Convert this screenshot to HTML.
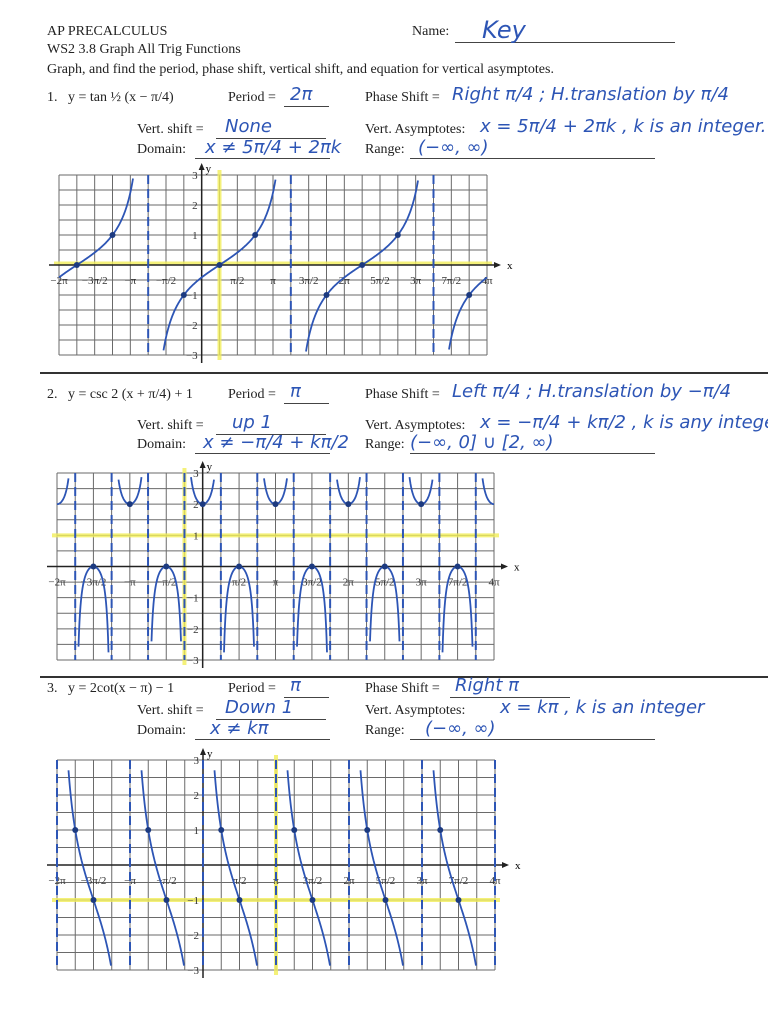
<!DOCTYPE html>
<html><head><meta charset="utf-8">
<style>
body{margin:0;background:#fff;width:768px;height:1024px;overflow:hidden;position:relative;font-family:"Liberation Serif",serif;color:#222}
.t{position:absolute;font-size:14px;white-space:nowrap}
.h{position:absolute;font-family:"DejaVu Sans",sans-serif;color:#2d55b5;font-size:18px;white-space:nowrap;font-style:italic}
.u{position:absolute;border-bottom:1px solid #444;height:0}
.sep{position:absolute;left:40px;width:728px;height:2px;background:#333}
svg{position:absolute;left:0;top:0}
</style></head><body>
<div class="t" style="left:47px;top:24px">AP PRECALCULUS</div>
<div class="t" style="left:47px;top:42px">WS2 3.8 Graph All Trig Functions</div>
<div class="t" style="left:47px;top:62px">Graph, and find the period, phase shift, vertical shift, and equation for vertical asymptotes.</div>
<div class="t" style="left:412px;top:24px">Name:</div>
<div class="u" style="left:455px;top:42px;width:220px"></div>
<div class="h" style="left:482px;top:16px;font-size:24px">Key</div>

<div class="t" style="left:47px;top:90px">1.&nbsp;&nbsp; y = tan ½ (x − π/4)</div>
<div class="t" style="left:228px;top:90px">Period = </div><div class="u" style="left:284px;top:106px;width:45px"></div>
<div class="h" style="left:290px;top:84px">2π</div>
<div class="t" style="left:365px;top:90px">Phase Shift =</div>
<div class="h" style="left:452px;top:84px">Right π/4 ; H.translation by π/4</div>
<div class="t" style="left:137px;top:122px">Vert. shift =</div><div class="u" style="left:216px;top:138px;width:110px"></div>
<div class="h" style="left:225px;top:116px">None</div>
<div class="t" style="left:365px;top:122px">Vert. Asymptotes:</div>
<div class="h" style="left:480px;top:116px">x = 5π/4 + 2πk , k is an integer.</div>
<div class="t" style="left:137px;top:142px">Domain:</div><div class="u" style="left:195px;top:158px;width:135px"></div>
<div class="h" style="left:205px;top:137px">x ≠ 5π/4 + 2πk</div>
<div class="t" style="left:365px;top:142px">Range:</div><div class="u" style="left:410px;top:158px;width:245px"></div>
<div class="h" style="left:418px;top:137px">(−∞, ∞)</div>
<div class="sep" style="top:372px"></div>

<div class="t" style="left:47px;top:387px">2.&nbsp;&nbsp; y = csc 2 (x + π/4) + 1</div>
<div class="t" style="left:228px;top:387px">Period = </div><div class="u" style="left:284px;top:403px;width:45px"></div>
<div class="h" style="left:290px;top:381px">π</div>
<div class="t" style="left:365px;top:387px">Phase Shift =</div>
<div class="h" style="left:452px;top:381px">Left π/4 ; H.translation by −π/4</div>
<div class="t" style="left:137px;top:418px">Vert. shift =</div><div class="u" style="left:216px;top:434px;width:110px"></div>
<div class="h" style="left:232px;top:412px">up 1</div>
<div class="t" style="left:365px;top:418px">Vert. Asymptotes:</div>
<div class="h" style="left:480px;top:412px">x = −π/4 + kπ/2 , k is any integer.</div>
<div class="t" style="left:137px;top:437px">Domain:</div><div class="u" style="left:195px;top:453px;width:135px"></div>
<div class="h" style="left:203px;top:432px">x ≠ −π/4 + kπ/2</div>
<div class="t" style="left:365px;top:437px">Range:</div><div class="u" style="left:410px;top:453px;width:245px"></div>
<div class="h" style="left:410px;top:432px">(−∞, 0] ∪ [2, ∞)</div>
<div class="sep" style="top:676px"></div>

<div class="t" style="left:47px;top:681px">3.&nbsp;&nbsp; y = 2cot(x − π) − 1</div>
<div class="t" style="left:228px;top:681px">Period = </div><div class="u" style="left:284px;top:697px;width:45px"></div>
<div class="h" style="left:290px;top:675px">π</div>
<div class="t" style="left:365px;top:681px">Phase Shift =</div><div class="u" style="left:450px;top:697px;width:120px"></div>
<div class="h" style="left:455px;top:675px">Right π</div>
<div class="t" style="left:137px;top:703px">Vert. shift =</div><div class="u" style="left:216px;top:719px;width:110px"></div>
<div class="h" style="left:225px;top:697px">Down 1</div>
<div class="t" style="left:365px;top:703px">Vert. Asymptotes:</div>
<div class="h" style="left:500px;top:697px">x = kπ , k is an integer</div>
<div class="t" style="left:137px;top:723px">Domain:</div><div class="u" style="left:195px;top:739px;width:135px"></div>
<div class="h" style="left:210px;top:718px">x ≠ kπ</div>
<div class="t" style="left:365px;top:723px">Range:</div><div class="u" style="left:410px;top:739px;width:245px"></div>
<div class="h" style="left:425px;top:718px">(−∞, ∞)</div>

<svg id="s" width="768" height="1024"></svg>
<script>
const xTickLabels=["−2π","−3π/2","−π","−π/2","","π/2","π","3π/2","2π","5π/2","3π","7π/2","4π"];
const yTickLabels=["−3","−2","−1","","1","2","3"];
// graph 1: y = A*tan(B(x - C)) + D
const g1Params=[1,0.5,Math.PI/4,0];
const g1Asym=[-0.75,1.25,3.25]; // in units of π
const g1Dots=[[-1.75,0],[-1.25,1],[-0.25,-1],[0.25,0],[0.75,1],[1.75,-1],[2.25,0],[2.75,1],[3.75,-1]];
// graph 2: y = A*csc(B(x + C)) + D
const g2Params=[1,2,Math.PI/4,1];
const g2Asym=[-1.75,-1.25,-0.75,-0.25,0.25,0.75,1.25,1.75,2.25,2.75,3.25,3.75];
const g2Dots=[[-1,2],[0,2],[1,2],[2,2],[3,2],[-1.5,0],[-0.5,0],[0.5,0],[1.5,0],[2.5,0],[3.5,0]];
// graph 3: y = A*cot(x - C) + D
const g3Params=[2,1,Math.PI,-1];
const g3Asym=[-2,-1,0,1,2,3,4];
const g3Dots=[[-1.75,1],[-1.5,-1],[-0.75,1],[-0.5,-1],[0.25,1],[0.5,-1],[1.25,1],[1.5,-1],[2.25,1],[2.5,-1],[3.25,1],[3.5,-1]];

const NS="http://www.w3.org/2000/svg",S=document.getElementById('s');
function el(t,a,p){const e=document.createElementNS(NS,t);for(const k in a)e.setAttribute(k,a[k]);(p||S).appendChild(e);return e;}
function graph(name,L,R,T,B,fn,asym,dots,hl){
 const g=el('g',{});
 
 
 const xs=v=>L+(v+2)/6*(R-L), ys=v=>T+(3-v)/6*(B-T);
 const x0=xs(0),y0=ys(0);
 for(let i=0;i<=24;i++){const x=L+i*(R-L)/24;el('line',{x1:x,y1:T,x2:x,y2:B,stroke:'#6a6a6a','stroke-width':1},g);}
 for(let j=0;j<=12;j++){const y=T+j*(B-T)/12;el('line',{x1:L,y1:y,x2:R,y2:y,stroke:'#6a6a6a','stroke-width':1},g);}
 hl.forEach(h=>{if(h[0]=='y')el('line',{x1:L-5,y1:ys(h[1]),x2:R+5,y2:ys(h[1]),stroke:'#f2ee5a','stroke-width':4,opacity:.8},g);else el('line',{x1:xs(h[1]),y1:T-5,x2:xs(h[1]),y2:B+5,stroke:'#f2ee5a','stroke-width':4,opacity:.8},g);});
 el('line',{x1:L-10,y1:y0,x2:R+12,y2:y0,stroke:'#222','stroke-width':1.5},g);
 el('line',{x1:x0,y1:T-10,x2:x0,y2:B+8,stroke:'#222','stroke-width':1.5},g);
 el('path',{d:`M${R+14},${y0}l-7,-3v6z`,fill:'#222'},g);
 el('path',{d:`M${x0},${T-12}l-3,7h6z`,fill:'#222'},g);
 const xl=el('text',{x:R+20,y:y0+4,'font-size':11},g);xl.textContent='x';
 const yl=el('text',{x:x0+4,y:T-3,'font-size':11},g);yl.textContent='y';
 xTickLabels.forEach((s,i)=>{if(!s)return;const t=el('text',{x:xs(-2+i*0.5),y:y0+19,'font-size':11,'text-anchor':'middle',fill:'#333'},g);t.textContent=s;});
 yTickLabels.forEach((s,i)=>{if(!s)return;const t=el('text',{x:x0-4,y:ys(-3+i)+4,'font-size':11,'text-anchor':'end',fill:'#333'},g);t.textContent=s;});
 asym.forEach(a=>el('line',{x1:xs(a),y1:T,x2:xs(a),y2:B,stroke:'#2d55b5','stroke-width':2,'stroke-dasharray':'9,5'},g));
 let d='',pen=false;
 for(let px=L;px<=R;px+=0.5){const v=(px-L)/(R-L)*6-2;const y=fn(v*Math.PI);
  if(isFinite(y)&&y<=2.9&&y>=-2.9){d+=(pen?'L':'M')+px.toFixed(1)+','+ys(y).toFixed(1);pen=true;}else pen=false;}
 el('path',{d:d,fill:'none',stroke:'#2d55b5','stroke-width':1.8},g);
 dots.forEach(p=>el('circle',{cx:xs(p[0]),cy:ys(p[1]),r:3,fill:'#1c3a80'},g));
}
const [a1,b1,c1,d1]=g1Params,[a2,b2,c2,d2]=g2Params,[a3,b3,c3,d3]=g3Params;
graph('graph-1-tan',59,487,175,355,x=>a1*Math.tan(b1*(x-c1))+d1,g1Asym,g1Dots,[['y',0.05],['x',0.25]]);
graph('graph-2-csc',57,494,473,660,x=>a2/Math.sin(b2*(x+c2))+d2,g2Asym,g2Dots,[['y',1],['x',-0.25]]);
graph('graph-3-cot',57,495,760,970,x=>a3/Math.tan(b3*(x-c3))+d3,g3Asym,g3Dots,[['y',-1],['x',1]]);
</script>
</body></html>
